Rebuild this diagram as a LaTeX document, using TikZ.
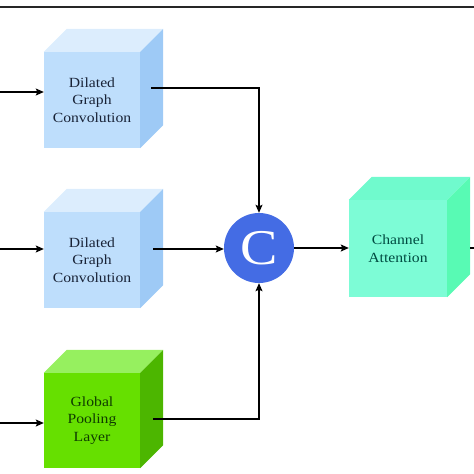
\documentclass[tikz,border=0pt]{standalone}
\usepackage{fontspec}
\setmainfont{Liberation Serif}[FakeStretch=1.12]
\usetikzlibrary{arrows.meta}
\definecolor{bfront}{RGB}{190,222,252}
\definecolor{btop}{RGB}{220,237,253}
\definecolor{bside}{RGB}{158,202,246}
\definecolor{gfront}{RGB}{102,224,0}
\definecolor{gtop}{RGB}{150,240,95}
\definecolor{gside}{RGB}{76,182,0}
\definecolor{afront}{RGB}{125,252,214}
\definecolor{atop}{RGB}{112,250,205}
\definecolor{aside}{RGB}{88,250,180}
\definecolor{cblue}{RGB}{68,108,228}
\definecolor{btext}{RGB}{25,35,55}
\definecolor{gtext}{RGB}{15,60,0}
\definecolor{atext}{RGB}{0,75,65}
\tikzset{
  cubefront/.style={inner sep=0pt, align=center, font=\fontsize{14}{17.5}\selectfont},
  arr/.style={line width=1.2pt, -{Stealth[length=8pt,width=7pt,inset=1.5pt]}},
  wire/.style={line width=1.2pt},
}
\newcommand{\cubefaces}[4]{% node, depth, top colour, side colour
  \fill[#3] (#1.north west) -- ++(#2,-#2) -- ([shift={(#2,-#2)}]#1.north east) -- (#1.north east) -- cycle;
  \fill[#4] (#1.north east) -- ++(#2,-#2) -- ([shift={(#2,-#2)}]#1.south east) -- (#1.south east) -- cycle;
}
\begin{document}
\begin{tikzpicture}[x=1pt,y=-1pt]
\useasboundingbox (0,0) rectangle (474,474);
\draw[line width=1.4pt, black!85] (0,7) -- (474,7);

% cubes
\node[cubefront, fill=bfront, text=btext, minimum width=96pt, minimum height=96pt] (g1) at (92,100) {Dilated\\Graph\\Convolution};
\cubefaces{g1}{23}{btop}{bside}
\node[cubefront, fill=bfront, text=btext, minimum width=96pt, minimum height=96pt] (g2) at (92,260) {Dilated\\Graph\\Convolution};
\cubefaces{g2}{23}{btop}{bside}
\node[cubefront, fill=gfront, text=gtext, minimum width=96pt, minimum height=95pt] (g3) at (92,420.5) {Global\\Pooling\\Layer};
\cubefaces{g3}{23}{gtop}{gside}
\node[cubefront, fill=afront, text=atext, minimum width=98pt, minimum height=97pt] (ca) at (398,248.5) {Channel\\Attention};
\cubefaces{ca}{23}{atop}{aside}

% concat
\node[circle, fill=cblue, minimum size=70pt, inner sep=0pt, text=white, font=\fontsize{50}{50}\selectfont] (cc) at (259,248) {C};

% inputs
\coordinate (in1) at (0,92);
\coordinate (in2) at (0,249);
\coordinate (in3) at (0,423);
\draw[arr] (in1) -- (in1 -| g1.west);
\draw[arr] (in2) -- (in2 -| g2.west);
\draw[arr] (in3) -- (in3 -| g3.west);

% outputs
\coordinate (o1) at (151,88);
\coordinate (o2) at (153,249);
\coordinate (o3) at (153,419);
\draw[arr] (o1) -| (cc.north);
\draw[arr] (o2) -- (o2 -| cc.west);
\draw[arr] (o3) -| (cc.south);
\draw[arr] (cc.east) -- (cc.east -| ca.west);
\coordinate (caout) at (470,248);
\coordinate (out) at (474,248);
\draw[wire] (caout) -- (out);
\end{tikzpicture}
\end{document}
